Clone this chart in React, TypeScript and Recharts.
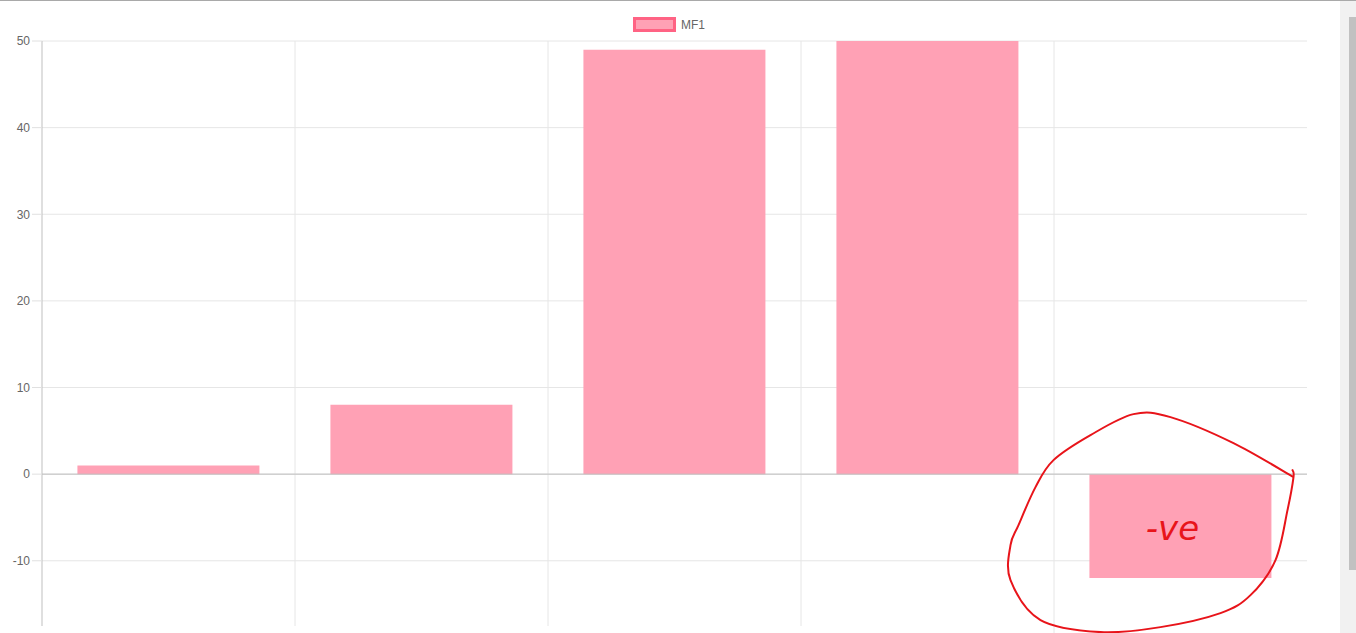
import React from "react";
import { BarChart, Bar, XAxis, YAxis, CartesianGrid, ReferenceLine, ReferenceDot } from "recharts";

const categories = ["1", "2", "3", "4", "5"];
const mf1Values = [1, 8, 49, 50, -12];
const yTicks = [-10, 0, 10, 20, 30, 40, 50];
const yDomain = [-20, 50];
const seriesName = "MF1";
const noteText = "-ve";
const noteCategory = categories[4];
const noteValue = -6;

const data = categories.map((c, i) => ({ category: c, mf1: mf1Values[i] }));

const FONT = '"Liberation Sans", Arial, Helvetica, sans-serif';
const RED = "#e8141a";

// hand-drawn loop offsets relative to the reference dot
const loop: [number, number][] = [
  [112, -56], [113, -49], [107, -16], [95, 34], [70, 69], [40, 87], [-20, 101], [-80, 106],
  [-140, 94], [-170, 54], [-170, 19], [-162, -1], [-145, -39], [-127, -66], [-90, -91],
  [-47, -112], [-10, -109], [53, -83], [113, -49],
];

function smoothPath(pts: [number, number][]) {
  let d = `M${pts[0][0]},${pts[0][1]}`;
  for (let i = 0; i < pts.length - 1; i++) {
    const p0 = pts[Math.max(0, i - 1)];
    const p1 = pts[i];
    const p2 = pts[i + 1];
    const p3 = pts[Math.min(pts.length - 1, i + 2)];
    const c1 = [p1[0] + (p2[0] - p0[0]) / 6, p1[1] + (p2[1] - p0[1]) / 6];
    const c2 = [p2[0] - (p3[0] - p1[0]) / 6, p2[1] - (p3[1] - p1[1]) / 6];
    d += ` C${c1[0]},${c1[1]} ${c2[0]},${c2[1]} ${p2[0]},${p2[1]}`;
  }
  return d;
}

const NoteShape = (props: any) => {
  const { cx, cy } = props;
  if (cx == null || cy == null) return null;
  return (
    <g transform={`translate(${cx},${cy})`}>
      <path d={smoothPath(loop)} fill="none" stroke={RED} strokeWidth={2} strokeLinecap="round" strokeLinejoin="round" />
      <text x={-8} y={14} textAnchor="middle" fill={RED} fontSize={34} fontFamily='"DejaVu Sans", sans-serif' fontWeight={300} fontStyle="italic">
        {noteText}
      </text>
    </g>
  );
};

export default function App() {
  return (
    <div style={{ position: "absolute", left: 0, top: 0, width: 1356, height: 633, background: "#fff", overflow: "hidden" }}>
      <div style={{ position: "absolute", left: 0, top: 0, width: 1340, height: 633, overflow: "hidden" }}>
        <BarChart
          width={1340}
          height={700}
          data={data}
          margin={{ top: 41, right: 33, left: 0, bottom: 22.6 }}
          barCategoryGap="14%"
        >
          <CartesianGrid
            stroke="#e6e6e6"
            horizontal={true}
            vertical={true}
            verticalCoordinatesGenerator={(p: any) => {
              const off = p.offset;
              return [1, 2, 3, 4].map((i) => off.left + (off.width * i) / categories.length);
            }}
          />
          <XAxis dataKey="category" axisLine={false} tickLine={false} tick={false} height={30} />
          <YAxis
            width={42}
            domain={yDomain}
            ticks={yTicks}
            interval={0}
            axisLine={{ stroke: "#bfbfbf" }}
            tickLine={{ stroke: "#e0e0e0" }}
            tickSize={10}
            tickMargin={2}
            tick={{ fill: "#666", fontSize: 12, fontFamily: FONT }}
          />
          <ReferenceLine y={0} stroke="#bfbfbf" />
          <Bar dataKey="mf1" name={seriesName} fill="#ffa1b5" isAnimationActive={false} />
          <ReferenceDot x={noteCategory} y={noteValue} r={0} ifOverflow="visible" shape={NoteShape} />
        </BarChart>
      </div>
      <div style={{ position: "absolute", left: 0, top: 626, width: 1005, height: 7, background: "#fff" }} />
      <div style={{ position: "absolute", left: 0, top: 0, width: 1356, height: 1, background: "#a9a9a9" }} />
      <div style={{ position: "absolute", left: 633, top: 17, display: "flex", alignItems: "center", fontFamily: FONT, fontSize: 12, color: "#666" }}>
        <div style={{ width: 37, height: 9, background: "#ffa1b5", border: "3px solid #ff6384", boxSizing: "content-box" }} />
        <span style={{ marginLeft: 5, lineHeight: "15px", position: "relative", top: 1 }}>{seriesName}</span>
      </div>
      <div style={{ position: "absolute", left: 1340, top: 1, width: 16, height: 632, background: "#f1f1f1" }} />
      <div style={{ position: "absolute", left: 1349, top: 17, width: 7, height: 553, background: "#c1c1c1" }} />
    </div>
  );
}
